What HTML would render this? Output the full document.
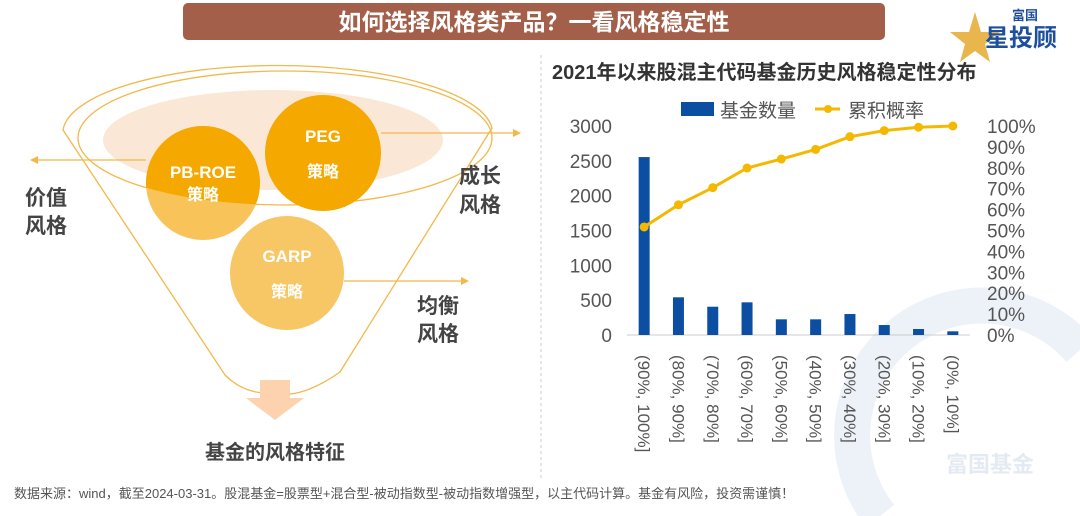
<!DOCTYPE html>
<html><head><meta charset="utf-8"><style>
html,body{margin:0;padding:0;background:#fff;width:1080px;height:516px;overflow:hidden}
svg{display:block;overflow:hidden;font-family:"Liberation Sans","Noto Sans CJK SC",sans-serif}
</style></head><body>
<svg id="page" width="1080" height="516" viewBox="0 0 1080 516">
<defs>
<clipPath id="ellClip"><ellipse cx="285" cy="138" rx="207" ry="67"/></clipPath>
<clipPath id="frame"><rect x="0" y="0" width="1080" height="516"/></clipPath>
</defs>
<!-- watermark -->
<g opacity="0.5" clip-path="url(#frame)">
<path d="M880,516 A130,130 0 0 1 1080,350" fill="none" stroke="#dbe6f3" stroke-width="36"/>
<text x="990" y="472" font-size="22" font-weight="bold" fill="#c9d6e6" text-anchor="middle">富国基金</text>
</g>
<!-- banner -->
<rect x="183" y="3" width="702" height="37" rx="5" fill="#a45f4a"/>
<text x="534" y="30" font-size="23" font-weight="bold" fill="#fff" text-anchor="middle">如何选择风格类产品？一看风格稳定性</text>
<!-- logo -->
<g>
<polygon points="975,12 981,32 1000,32 985,44 990,62 975,51 960,62 965,44 950,32 969,32" fill="#e8b64c"/>
<text x="1012" y="20" font-size="13" font-weight="bold" fill="#1d4f9c">富国</text>
<text x="985" y="46" font-size="24" font-weight="bold" fill="#1d4f9c">星投顾</text>
</g>
<!-- separator -->
<line x1="541" y1="55" x2="541" y2="480" stroke="#ccc" stroke-dasharray="3,3"/>
<!-- funnel -->
<g>
<ellipse cx="273" cy="140" rx="170" ry="50" fill="#fbe7d6"/>
<path d="M63,130 A215,68 0 0 1 492,128 L340,372 Q300,400 273,393 Q245,395 225,375 Z" fill="none" stroke="#f2b84a" stroke-width="1.3"/>
<ellipse cx="285" cy="138" rx="207" ry="67" fill="none" stroke="#f2b84a" stroke-width="1.3"/>
<circle cx="203" cy="183" r="57" fill="#f8c45a"/>
<circle cx="203" cy="183" r="57" fill="#f5a800" clip-path="url(#ellClip)"/>
<circle cx="323" cy="153" r="58" fill="#f5a800"/>
<circle cx="287" cy="273" r="57" fill="#f8c765"/>
<line x1="146" y1="160" x2="36" y2="160" stroke="#f2b84a" stroke-width="1.3"/>
<polygon points="30,160 38,156 38,164" fill="#f2b84a"/>
<line x1="381" y1="133" x2="514" y2="133" stroke="#f2b84a" stroke-width="1.3"/>
<polygon points="521,133 513,129 513,137" fill="#f2b84a"/>
<line x1="344" y1="281" x2="462" y2="281" stroke="#f2b84a" stroke-width="1.3"/>
<polygon points="469,281 461,277 461,285" fill="#f2b84a"/>
<text x="203" y="178" font-size="17" font-weight="bold" fill="#fff" text-anchor="middle">PB-ROE</text>
<text x="203" y="200" font-size="16" font-weight="bold" fill="#fff" text-anchor="middle">策略</text>
<text x="323" y="142" font-size="17" font-weight="bold" fill="#fff" text-anchor="middle">PEG</text>
<text x="323" y="177" font-size="16" font-weight="bold" fill="#fff" text-anchor="middle">策略</text>
<text x="287" y="262" font-size="17" font-weight="bold" fill="#fff" text-anchor="middle">GARP</text>
<text x="287" y="297" font-size="16" font-weight="bold" fill="#fff" text-anchor="middle">策略</text>
<g font-size="21" font-weight="bold" fill="#444">
<text x="25" y="205">价值</text><text x="25" y="233">风格</text>
<text x="459" y="183">成长</text><text x="459" y="212">风格</text>
<text x="417" y="313">均衡</text><text x="417" y="341">风格</text>
</g>
<rect x="260" y="380" width="30" height="18" fill="#fcd3ae"/>
<polygon points="246,398 304,398 275,420" fill="#fcd3ae"/>
<text x="275" y="459" font-size="20" font-weight="bold" fill="#444" text-anchor="middle">基金的风格特征</text>
</g>
<!-- chart -->
<text x="552" y="79" font-size="20" font-weight="bold" fill="#333">2021年以来股混主代码基金历史风格稳定性分布</text>
<g>
<rect x="681" y="102" width="33" height="14" fill="#0b4ea2"/>
<text x="720" y="117" font-size="19" fill="#555">基金数量</text>
<line x1="815" y1="109" x2="840" y2="109" stroke="#f5b800" stroke-width="3"/>
<circle cx="828" cy="109" r="4" fill="#f5b800"/>
<text x="848" y="117" font-size="19" fill="#555">累积概率</text>
</g>
<g id="chart"></g>
<text x="14" y="498" font-size="13" fill="#555">数据来源：wind，截至2024-03-31。股混基金=股票型+混合型-被动指数型-被动指数增强型，以主代码计算。基金有风险，投资需谨慎！</text>
</svg>
<script>
const categories=["(90%, 100%]","(80%, 90%]","(70%, 80%]","(60%, 70%]","(50%, 60%]","(40%, 50%]","(30%, 40%]","(20%, 30%]","(10%, 20%]","(0%, 10%]"];
const fundCounts=[2554,541,406,469,225,225,301,143,86,53];
const cumProb=[51.7,62.3,70.5,79.9,84.2,88.8,94.9,97.8,99.4,100];
const leftTicks=[0,500,1000,1500,2000,2500,3000];
const rightTicks=[0,10,20,30,40,50,60,70,80,90,100];
const NS="http://www.w3.org/2000/svg";
const g=document.getElementById('chart');
const x0=627,x1=970,yB=335,yT=126;
const xC=i=>x0+(x1-x0)/categories.length*(i+0.5);
const yL=v=>yB-(v/3000)*(yB-yT);
const yR=v=>yB-(v/100)*(yB-yT);
function mk(t,a){const e=document.createElementNS(NS,t);for(const k in a)e.setAttribute(k,a[k]);g.appendChild(e);return e;}
leftTicks.forEach(t=>{const e=mk('text',{x:612,y:yL(t)+7,'font-size':19,fill:'#555','text-anchor':'end'});e.textContent=t;

});
rightTicks.forEach(t=>{const e=mk('text',{x:987,y:yR(t)+7,'font-size':19,fill:'#555'});e.textContent=t+'%';

});
const ax=mk('line',{x1:x0,y1:yB,x2:x1,y2:yB,stroke:'#ccc'});


fundCounts.forEach((v,i)=>{const r=mk('rect',{x:xC(i)-5.5,y:yL(v),width:11,height:yB-yL(v),fill:'#0b4ea2'});

});
const pl=mk('polyline',{points:cumProb.map((v,i)=>xC(i)+','+yR(v)).join(' '),fill:'none',stroke:'#f5b800','stroke-width':3});


cumProb.forEach((v,i)=>{const c=mk('circle',{cx:xC(i),cy:yR(v),r:4.5,fill:'#f5b800'});

});
categories.forEach((c,i)=>{const x=xC(i)-6,y=355;const t=mk('text',{x:x,y:y,'font-size':17,fill:'#555',transform:`rotate(90 ${x} ${y})`});t.textContent=c;

});
</script>
</body></html>
